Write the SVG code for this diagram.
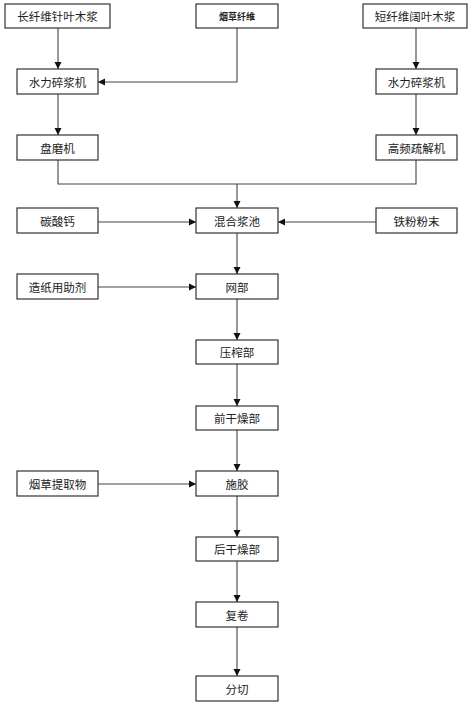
<svg xmlns="http://www.w3.org/2000/svg" width="474" height="705" viewBox="0 0 474 705">
<style>
.box{fill:#fff;stroke:#333;stroke-width:1.2}
.t{font-family:"Noto Sans CJK SC","Noto Sans CJK JP",sans-serif;font-size:11.5px;fill:#222;text-anchor:middle;dominant-baseline:central}
.s{font-size:9px;font-weight:bold}
.c{fill:none;stroke:#444;stroke-width:1.1}
.a{marker-end:url(#arr)}
</style>
<defs>
<marker id="arr" markerUnits="userSpaceOnUse" markerWidth="8" markerHeight="8" refX="7" refY="4" orient="auto">
<path d="M0,0.5 L7,4 L0,7.5 z" fill="#111"/>
</marker>
</defs>
<rect width="474" height="705" fill="#fff"/>
<g id="connectors">
<line class="c a" x1="58" y1="28" x2="58" y2="69"/>
<polyline class="c a" points="237,28 237,82 98,82"/>
<line class="c a" x1="416" y1="28" x2="416" y2="69"/>
<line class="c a" x1="58" y1="94" x2="58" y2="135"/>
<line class="c a" x1="416" y1="94" x2="416" y2="135"/>
<polyline class="c" points="58,160 58,184 416,184 416,160"/>
<line class="c a" x1="237" y1="184" x2="237" y2="208"/>
<line class="c a" x1="98" y1="222" x2="196" y2="222"/>
<line class="c a" x1="376" y1="222" x2="278" y2="222"/>
<line class="c a" x1="237" y1="233" x2="237" y2="274"/>
<line class="c a" x1="98" y1="287" x2="196" y2="287"/>
<line class="c a" x1="237" y1="299" x2="237" y2="340"/>
<line class="c a" x1="237" y1="364" x2="237" y2="406"/>
<line class="c a" x1="237" y1="430" x2="237" y2="471"/>
<line class="c a" x1="98" y1="484" x2="196" y2="484"/>
<line class="c a" x1="237" y1="496" x2="237" y2="537"/>
<line class="c a" x1="237" y1="561" x2="237" y2="602"/>
<line class="c a" x1="237" y1="627" x2="237" y2="676"/>
</g>
<g id="n1"><rect class="box" x="5" y="4" width="105" height="24"/><text class="t" x="57.5" y="16">长纤维针叶木浆</text></g>
<g id="n2"><rect class="box" x="196" y="4" width="82" height="24"/><text class="t s" x="237" y="16">烟草纤维</text></g>
<g id="n3"><rect class="box" x="363" y="4" width="104" height="24"/><text class="t" x="415" y="16">短纤维阔叶木浆</text></g>
<g id="n4"><rect class="box" x="17" y="69" width="81" height="25"/><text class="t" x="57.5" y="81.5">水力碎浆机</text></g>
<g id="n5"><rect class="box" x="376" y="69" width="81" height="25"/><text class="t" x="416.5" y="81.5">水力碎浆机</text></g>
<g id="n6"><rect class="box" x="17" y="135" width="81" height="25"/><text class="t" x="57.5" y="147.5">盘磨机</text></g>
<g id="n7"><rect class="box" x="376" y="135" width="81" height="25"/><text class="t" x="416.5" y="147.5">高频疏解机</text></g>
<g id="n8"><rect class="box" x="17" y="208" width="81" height="25"/><text class="t" x="57.5" y="220.5">碳酸钙</text></g>
<g id="n9"><rect class="box" x="196" y="208" width="82" height="25"/><text class="t" x="237" y="220.5">混合浆池</text></g>
<g id="n10"><rect class="box" x="376" y="208" width="81" height="25"/><text class="t" x="416.5" y="220.5">铁粉粉末</text></g>
<g id="n11"><rect class="box" x="17" y="274" width="81" height="25"/><text class="t" x="57.5" y="286.5">造纸用助剂</text></g>
<g id="n12"><rect class="box" x="196" y="274" width="82" height="25"/><text class="t" x="237" y="286.5">网部</text></g>
<g id="n13"><rect class="box" x="196" y="340" width="82" height="24"/><text class="t" x="237" y="352">压榨部</text></g>
<g id="n14"><rect class="box" x="196" y="406" width="82" height="24"/><text class="t" x="237" y="418">前干燥部</text></g>
<g id="n15"><rect class="box" x="17" y="471" width="81" height="25"/><text class="t" x="57.5" y="483.5">烟草提取物</text></g>
<g id="n16"><rect class="box" x="196" y="471" width="82" height="25"/><text class="t" x="237" y="483.5">施胶</text></g>
<g id="n17"><rect class="box" x="196" y="537" width="82" height="24"/><text class="t" x="237" y="549">后干燥部</text></g>
<g id="n18"><rect class="box" x="196" y="602" width="82" height="25"/><text class="t" x="237" y="614.5">复卷</text></g>
<g id="n19"><rect class="box" x="196" y="676" width="82" height="25"/><text class="t" x="237" y="688.5">分切</text></g>
</svg>
